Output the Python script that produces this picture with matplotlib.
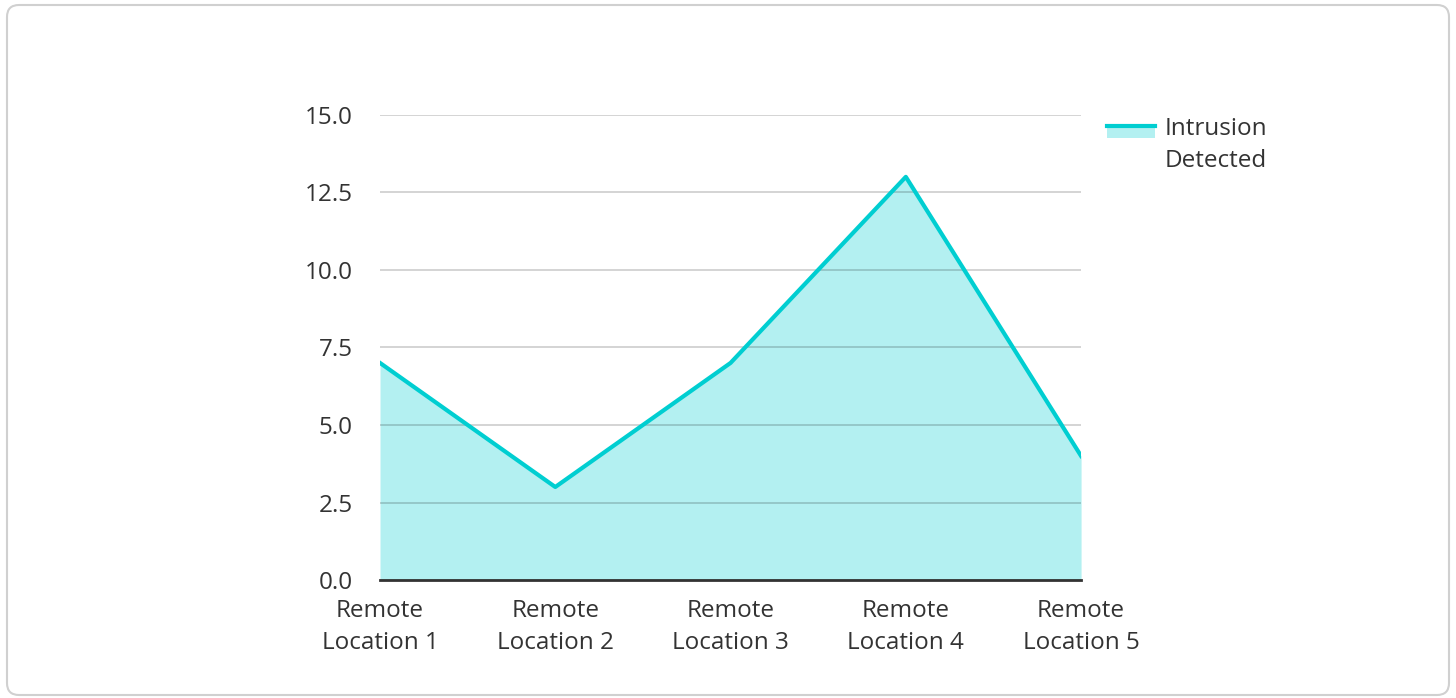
import matplotlib.pyplot as plt
from matplotlib.patches import Rectangle, FancyBboxPatch
from matplotlib.lines import Line2D
from matplotlib.legend_handler import HandlerBase
from matplotlib.transforms import IdentityTransform

plt.rcParams['font.family'] = ['Open Sans', 'DejaVu Sans']

# data
locations = ['Remote\nLocation 1', 'Remote\nLocation 2', 'Remote\nLocation 3',
             'Remote\nLocation 4', 'Remote\nLocation 5']
intrusions = [7, 3, 7, 13, 4]
y_ticks = [0, 2.5, 5, 7.5, 10, 12.5, 15]

line_color = '#00CED1'
fill_color = '#B3F0F1'
text_color = '#333333'


class AreaHandler(HandlerBase):
    # legend key: filled box with the line along its top edge,
    # lifted up next to the first line of the two-line label
    def create_artists(self, legend, orig, xd, yd, w, h, fontsize, trans):
        top = yd + 1.68 * h
        bottom = yd + 0.95 * h
        box = Rectangle((xd, bottom), w, top - bottom,
                        facecolor=fill_color, edgecolor='none', transform=trans)
        ln = Line2D([xd, xd + w], [top, top], color=line_color, lw=3,
                    transform=trans)
        return [box, ln]


fig = plt.figure(figsize=(14.56, 6.98), dpi=100)
ax = fig.add_axes([0.261, 0.169, 0.4815, 0.6665])

x = list(range(len(locations)))
ax.fill_between(x, intrusions, 0, color=fill_color, lw=0, zorder=1)
ax.plot(x, intrusions, color=line_color, lw=3, zorder=3)

ax.set_xlim(0, len(locations) - 1)
ax.set_ylim(0, 15)
ax.set_yticks(y_ticks)
ax.set_yticklabels([f'{v:.1f}' for v in y_ticks])
ax.set_xticks(x)
ax.set_xticklabels(locations, linespacing=1.46)

ax.grid(axis='y', color='black', alpha=0.18, lw=1.3, zorder=2)
ax.set_axisbelow(False)
for side in ['top', 'right', 'left']:
    ax.spines[side].set_visible(False)
ax.spines['bottom'].set_color('#333333')
ax.spines['bottom'].set_linewidth(2)
ax.spines['bottom'].set_zorder(4)
ax.tick_params(axis='both', length=0, labelsize=17.5, labelcolor=text_color)
ax.tick_params(axis='y', pad=19.5)
ax.tick_params(axis='x', pad=13.5)

leg = fig.legend(handles=[object()], labels=['Intrusion\nDetected'],
                 handler_map={object: AreaHandler()},
                 loc='upper left', bbox_to_anchor=(0.7535, 0.846), frameon=False,
                 fontsize=17.5, labelcolor=text_color, handlelength=1.97,
                 handletextpad=0.4, borderaxespad=0)
leg.get_texts()[0].set_linespacing(1.46)

# rounded card border
card = FancyBboxPatch((7, 3), 1442, 690, boxstyle='round,pad=0,rounding_size=12',
                      transform=IdentityTransform(), facecolor='none',
                      edgecolor='#d0d0d0', lw=1.5)
fig.patches.append(card)

fig.savefig('out.png', dpi=100)
